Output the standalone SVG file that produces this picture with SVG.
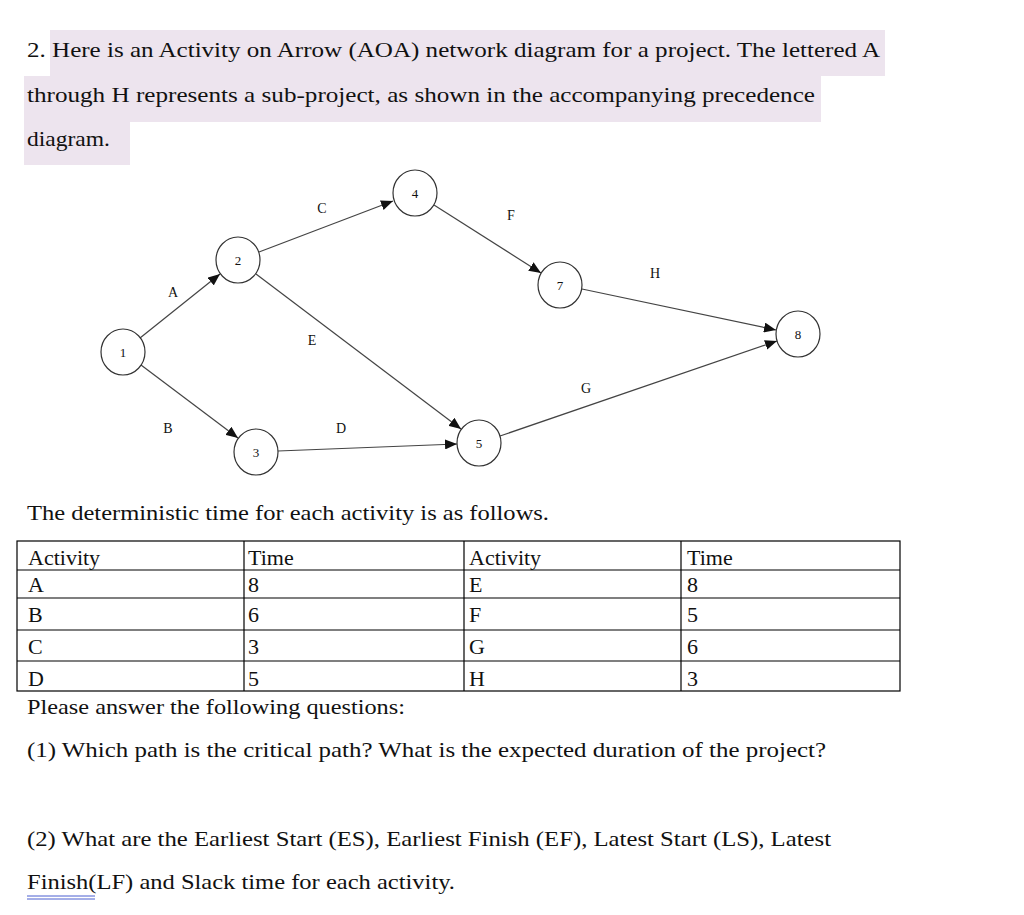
<svg xmlns="http://www.w3.org/2000/svg" width="1024" height="915" viewBox="0 0 1024 915">
<style>
.t{font-family:"Liberation Serif",serif;font-size:22px;fill:#111}
.tb{font-family:"Liberation Serif",serif;font-size:22px;fill:#111}
.n{font-family:"Liberation Serif",serif;font-size:13px;fill:#111;text-anchor:middle}
.l{font-family:"Liberation Serif",serif;font-size:14px;fill:#111;text-anchor:middle}
.c{fill:#fff;stroke:#333;stroke-width:1.2}
.e{stroke:#444;stroke-width:1.2;fill:none;marker-end:url(#ah)}
.g{stroke:#000;stroke-width:1.2}
</style>
<defs><marker id="ah" viewBox="0 0 12 10" refX="12" refY="5" markerWidth="12" markerHeight="10" markerUnits="userSpaceOnUse" orient="auto"><path d="M0,0 L12,5 L0,10 Z" fill="#111"/></marker></defs>
<rect width="1024" height="915" fill="#fff"/>
<g id="highlight" fill="#ede4ee">
<rect x="50" y="30" width="835" height="46"/>
<rect x="24" y="76" width="797" height="46"/>
<rect x="24" y="122" width="106" height="43"/>
</g>
<text class="t" x="27" y="57" textLength="853" lengthAdjust="spacingAndGlyphs">2. Here is an Activity on Arrow (AOA) network diagram for a project. The lettered A</text>
<text class="t" x="27" y="102" textLength="788" lengthAdjust="spacingAndGlyphs">through H represents a sub-project, as shown in the accompanying precedence</text>
<text class="t" x="27" y="146" textLength="83" lengthAdjust="spacingAndGlyphs">diagram.</text>
<g id="connectors">
<line class="e" x1="140" y1="338" x2="220" y2="274"/>
<line class="e" x1="141" y1="365" x2="238" y2="438"/>
<line class="e" x1="259" y1="252" x2="393" y2="201"/>
<line class="e" x1="256" y1="274" x2="461" y2="429"/>
<line class="e" x1="278" y1="451" x2="457" y2="444"/>
<line class="e" x1="434" y1="205" x2="541" y2="273"/>
<line class="e" x1="582" y1="289" x2="776" y2="330"/>
<line class="e" x1="500" y1="436" x2="777" y2="341"/>
<text class="l" x="173" y="297">A</text>
<text class="l" x="168" y="433">B</text>
<text class="l" x="322" y="213">C</text>
<text class="l" x="312" y="345">E</text>
<text class="l" x="341" y="433">D</text>
<text class="l" x="511" y="220">F</text>
<text class="l" x="655" y="278">H</text>
<text class="l" x="586" y="393">G</text>
</g>
<g id="node1"><ellipse class="c" cx="123" cy="352" rx="22" ry="23"/><text class="n" x="123" y="357">1</text></g>
<g id="node2"><ellipse class="c" cx="238" cy="260" rx="22" ry="23"/><text class="n" x="238" y="265">2</text></g>
<g id="node3"><ellipse class="c" cx="256" cy="452" rx="22" ry="23"/><text class="n" x="256" y="457">3</text></g>
<g id="node4"><ellipse class="c" cx="415" cy="193" rx="22" ry="23"/><text class="n" x="415" y="198">4</text></g>
<g id="node5"><ellipse class="c" cx="479" cy="443" rx="22" ry="23"/><text class="n" x="479" y="448">5</text></g>
<g id="node7"><ellipse class="c" cx="560" cy="285" rx="22" ry="23"/><text class="n" x="560" y="290">7</text></g>
<g id="node8"><ellipse class="c" cx="798" cy="334" rx="22" ry="23"/><text class="n" x="798" y="339">8</text></g>
<text class="t" x="27" y="520" textLength="522" lengthAdjust="spacingAndGlyphs">The deterministic time for each activity is as follows.</text>
<g id="table">
<rect x="17" y="541" width="883" height="150" fill="none" class="g"/>
<line class="g" x1="244" y1="541" x2="244" y2="691"/>
<line class="g" x1="464" y1="541" x2="464" y2="691"/>
<line class="g" x1="681" y1="541" x2="681" y2="691"/>
<line class="g" x1="17" y1="570" x2="900" y2="570"/>
<line class="g" x1="17" y1="598" x2="900" y2="598"/>
<line class="g" x1="17" y1="630" x2="900" y2="630"/>
<line class="g" x1="17" y1="661" x2="900" y2="661"/>
<text class="tb" x="28" y="565">Activity</text><text class="tb" x="248" y="565">Time</text><text class="tb" x="469" y="565">Activity</text><text class="tb" x="687" y="565">Time</text>
<text class="tb" x="28" y="592">A</text><text class="tb" x="248" y="592">8</text><text class="tb" x="469" y="592">E</text><text class="tb" x="687" y="592">8</text>
<text class="tb" x="28" y="622">B</text><text class="tb" x="248" y="622">6</text><text class="tb" x="469" y="622">F</text><text class="tb" x="687" y="622">5</text>
<text class="tb" x="28" y="654">C</text><text class="tb" x="248" y="654">3</text><text class="tb" x="469" y="654">G</text><text class="tb" x="687" y="654">6</text>
<text class="tb" x="28" y="686">D</text><text class="tb" x="248" y="686">5</text><text class="tb" x="469" y="686">H</text><text class="tb" x="687" y="686">3</text>
</g>
<text class="t" x="27" y="714" textLength="378" lengthAdjust="spacingAndGlyphs">Please answer the following questions:</text>
<text class="t" x="27" y="757" textLength="799" lengthAdjust="spacingAndGlyphs">(1) Which path is the critical path? What is the expected duration of the project?</text>
<text class="t" x="27" y="846" textLength="804" lengthAdjust="spacingAndGlyphs">(2) What are the Earliest Start (ES), Earliest Finish (EF), Latest Start (LS), Latest</text>
<text class="t" x="27" y="889" textLength="428" lengthAdjust="spacingAndGlyphs">Finish(LF) and Slack time for each activity.</text>
<g stroke="#4a5fd0" stroke-width="1"><line x1="27" y1="896" x2="95" y2="896"/><line x1="27" y1="899" x2="95" y2="899"/></g>
</svg>
